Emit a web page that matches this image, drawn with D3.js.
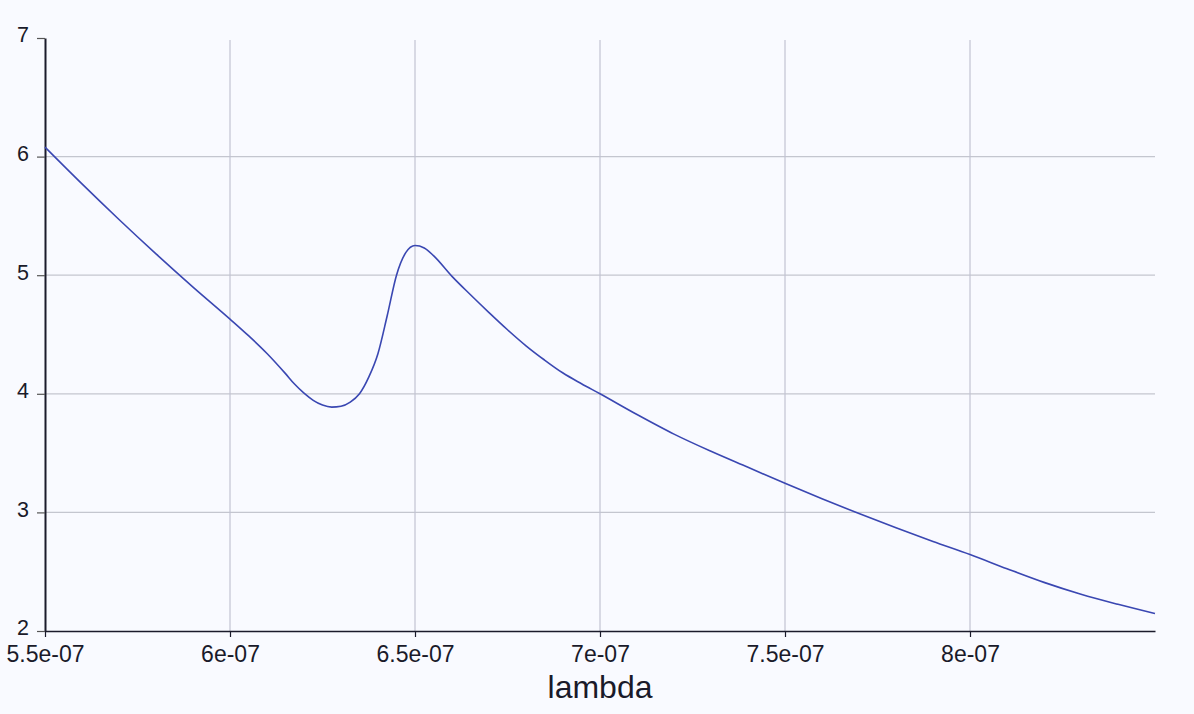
<!DOCTYPE html>
<html>
<head>
<meta charset="utf-8">
<script src="https://cdn.jsdelivr.net/npm/d3@7"></script>
<style>
  html, body { margin: 0; padding: 0; background: #f9faff; }
  svg { display: block; }
  text { font-family: "Liberation Sans", Arial, sans-serif; fill: #1a1a2a; }
</style>
</head>
<body>
<svg id="chart" width="1194" height="714"></svg>
<script>
// Data (lambda in metres)
const lambdaValues = [5.5e-7, 5.6e-7, 5.7e-7, 5.8e-7, 5.9e-7, 6.0e-7, 6.05e-7, 6.1e-7, 6.15e-7, 6.175e-7,
  6.2e-7, 6.225e-7, 6.25e-7, 6.275e-7, 6.3e-7, 6.325e-7, 6.35e-7, 6.375e-7, 6.4e-7, 6.425e-7,
  6.45e-7, 6.475e-7, 6.5e-7, 6.525e-7, 6.55e-7, 6.6e-7, 6.65e-7, 6.7e-7, 6.75e-7, 6.8e-7,
  6.85e-7, 6.9e-7, 6.95e-7, 7.0e-7, 7.1e-7, 7.2e-7, 7.3e-7, 7.4e-7, 7.5e-7, 7.6e-7,
  7.7e-7, 7.8e-7, 7.9e-7, 8.0e-7, 8.1e-7, 8.2e-7, 8.3e-7, 8.4e-7, 8.5e-7];
const seriesValues = [6.08, 5.77, 5.47, 5.18, 4.90, 4.63, 4.49, 4.34, 4.17, 4.08,
  4.005, 3.945, 3.905, 3.888, 3.895, 3.93, 4.00, 4.14, 4.34, 4.66,
  5.0, 5.19, 5.25, 5.23, 5.165, 4.99, 4.835, 4.685, 4.54, 4.405,
  4.285, 4.175, 4.085, 4.0, 3.825, 3.66, 3.515, 3.38, 3.245, 3.115,
  2.99, 2.87, 2.755, 2.645, 2.525, 2.41, 2.31, 2.225, 2.147];
const xTickValues = [5.5e-7, 6e-7, 6.5e-7, 7e-7, 7.5e-7, 8e-7];
const xTickLabels = ["5.5e-07", "6e-07", "6.5e-07", "7e-07", "7.5e-07", "8e-07"];
const yTickValues = [2, 3, 4, 5, 6, 7];
const xTitle = "lambda";

const margin = { left: 45, right: 39, top: 38, bottom: 83 };
const W = 1194, H = 714;
const svg = d3.select("#chart");

const x = d3.scaleLinear().domain([5.5e-7, 8.5e-7]).range([margin.left, W - margin.right]);
const y = d3.scaleLinear().domain([2, 7]).range([H - margin.bottom, margin.top]);

// grid lines
svg.append("g").selectAll("line.hg")
  .data(yTickValues.filter(v => v !== 2 && v !== 7))
  .join("line")
  .attr("x1", x.range()[0]).attr("x2", x.range()[1])
  .attr("y1", d => y(d)).attr("y2", d => y(d))
  .attr("stroke", "#c4c6cf").attr("stroke-width", 1.2);
svg.append("g").selectAll("line.vg")
  .data(xTickValues.slice(1))
  .join("line")
  .attr("x1", d => x(d)).attr("x2", d => x(d))
  .attr("y1", y(7) + 2).attr("y2", y(2))
  .attr("stroke", "#c2c3d2").attr("stroke-width", 1.2);

// x axis
const xAxis = d3.axisBottom(x).tickValues(xTickValues)
  .tickFormat((d, i) => xTickLabels[i]).tickSize(6).tickSizeOuter(0).tickPadding(9);
const gx = svg.append("g").attr("transform", `translate(0,${y(2)})`).call(xAxis);
gx.select(".domain").attr("stroke", "#1b1b2b").attr("stroke-width", 1.6);
gx.selectAll(".tick line").attr("stroke", "#1b1b2b").attr("stroke-width", 1.2);
gx.selectAll(".tick text").attr("font-size", 23).attr("fill", "#1a1a2a")
  .style("font-family", "'Liberation Sans', Arial, sans-serif");

// y axis
const yAxis = d3.axisLeft(y).tickValues(yTickValues).tickFormat(d3.format("d"))
  .tickSize(8).tickSizeOuter(0).tickPadding(8);
const gy = svg.append("g").attr("transform", `translate(${x(5.5e-7)},0)`).call(yAxis);
gy.select(".domain").attr("stroke", "#1b1b2b").attr("stroke-width", 2);
gy.selectAll(".tick line").attr("stroke", "#555").attr("stroke-width", 1.2);
gy.selectAll(".tick text").attr("font-size", 21.5).attr("fill", "#1a1a2a")
  .attr("y", -3)
  .style("font-family", "'Liberation Sans', Arial, sans-serif");

// axis title
svg.append("text")
  .attr("x", (x.range()[0] + x.range()[1]) / 2)
  .attr("y", 698)
  .attr("text-anchor", "middle")
  .attr("font-size", 32)
  .text(xTitle);

// data line
const data = lambdaValues.map((l, i) => ({ l, v: seriesValues[i] }));
const line = d3.line().x(d => x(d.l)).y(d => y(d.v)).curve(d3.curveMonotoneX);
svg.append("path").datum(data)
  .attr("fill", "none")
  .attr("stroke", "#3a47b2")
  .attr("stroke-width", 1.6)
  .attr("d", line);
</script>
</body>
</html>
